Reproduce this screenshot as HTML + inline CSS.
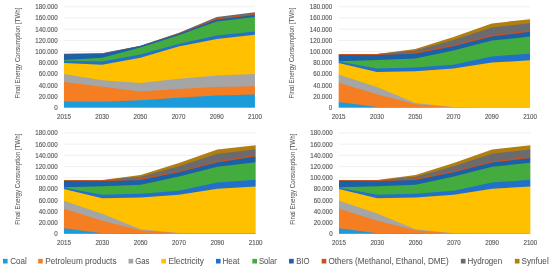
<!DOCTYPE html>
<html><head><meta charset="utf-8"><style>
html,body{margin:0;padding:0;background:#fff;}
svg{display:block;will-change:transform;}
text{font-family:"Liberation Sans",sans-serif;fill:#595959;stroke:#595959;stroke-width:0.13px;}
.ax{font-size:6.6px;}
.yt{font-size:6.5px;stroke-width:0.06px;}
.lg{font-size:8.6px;stroke-width:0.05px;}
</style></head><body>
<svg width="550" height="268" viewBox="0 0 550 268">
<rect width="550" height="268" fill="#fff"/>
<g transform="translate(0,0)">
<line x1="63.94" x2="254.94" y1="96.49" y2="96.49" stroke="#e9e9e9" stroke-width="0.7"/>
<line x1="63.94" x2="254.94" y1="85.28" y2="85.28" stroke="#e9e9e9" stroke-width="0.7"/>
<line x1="63.94" x2="254.94" y1="74.07" y2="74.07" stroke="#e9e9e9" stroke-width="0.7"/>
<line x1="63.94" x2="254.94" y1="62.86" y2="62.86" stroke="#e9e9e9" stroke-width="0.7"/>
<line x1="63.94" x2="254.94" y1="51.64" y2="51.64" stroke="#e9e9e9" stroke-width="0.7"/>
<line x1="63.94" x2="254.94" y1="40.43" y2="40.43" stroke="#e9e9e9" stroke-width="0.7"/>
<line x1="63.94" x2="254.94" y1="29.22" y2="29.22" stroke="#e9e9e9" stroke-width="0.7"/>
<line x1="63.94" x2="254.94" y1="18.01" y2="18.01" stroke="#e9e9e9" stroke-width="0.7"/>
<line x1="63.94" x2="254.94" y1="6.8" y2="6.8" stroke="#e9e9e9" stroke-width="0.7"/>
<mask id="m1" maskUnits="userSpaceOnUse" x="0" y="0" width="275" height="125"><rect x="63.94" y="0" width="191" height="107.7" fill="#fff"/></mask>
<g mask="url(#m1)">
<path d="M62.44,53.7 L63.94,53.7 L102.14,53.3 L140.34,45.8 L178.54,33 L216.74,16.9 L254.94,12.3 L256.44,12.3 L256.44,109.2 L62.44,109.2Z" fill="#6a6a6f"/>
<path d="M62.44,54 L63.94,54 L102.14,53.6 L140.34,45.9 L178.54,33.3 L216.74,18.2 L254.94,14 L256.44,14 L256.44,109.2 L62.44,109.2Z" fill="#c8521a"/>
<path d="M62.44,54.3 L63.94,54.3 L102.14,53.7 L140.34,46.1 L178.54,33.7 L216.74,19.4 L254.94,14.9 L256.44,14.9 L256.44,109.2 L62.44,109.2Z" fill="#1b60a8"/>
<path d="M62.44,60 L63.94,60 L102.14,57.7 L140.34,47.6 L178.54,35.2 L216.74,21.5 L254.94,17 L256.44,17 L256.44,109.2 L62.44,109.2Z" fill="#44ab3e"/>
<path d="M62.44,60.7 L63.94,60.7 L102.14,61.6 L140.34,54.6 L178.54,44.1 L216.74,35.6 L254.94,31.4 L256.44,31.4 L256.44,109.2 L62.44,109.2Z" fill="#2070cc"/>
<path d="M62.44,62.9 L63.94,62.9 L102.14,64.8 L140.34,57.8 L178.54,46.5 L216.74,38.9 L254.94,34.7 L256.44,34.7 L256.44,109.2 L62.44,109.2Z" fill="#ffc000"/>
<path d="M62.44,74.1 L63.94,74.1 L102.14,80.3 L140.34,83 L178.54,78.7 L216.74,75.5 L254.94,74 L256.44,74 L256.44,109.2 L62.44,109.2Z" fill="#a5a5a5"/>
<path d="M62.44,82 L63.94,82 L102.14,86.8 L140.34,91.4 L178.54,89.1 L216.74,87.1 L254.94,86.2 L256.44,86.2 L256.44,109.2 L62.44,109.2Z" fill="#f57d22"/>
<path d="M62.44,101.6 L63.94,101.6 L102.14,101.8 L140.34,100.2 L178.54,97.7 L216.74,95.6 L254.94,94.6 L256.44,94.6 L256.44,109.2 L62.44,109.2Z" fill="#1c9bda"/>
</g>
<text transform="translate(57.7,110.05) scale(0.94,1)" text-anchor="end" class="ax">0</text>
<text transform="translate(57.7,98.84) scale(0.94,1)" text-anchor="end" class="ax">20.000</text>
<text transform="translate(57.7,87.63) scale(0.94,1)" text-anchor="end" class="ax">40.000</text>
<text transform="translate(57.7,76.42) scale(0.94,1)" text-anchor="end" class="ax">60.000</text>
<text transform="translate(57.7,65.21) scale(0.94,1)" text-anchor="end" class="ax">80.000</text>
<text transform="translate(57.7,53.99) scale(0.94,1)" text-anchor="end" class="ax">100.000</text>
<text transform="translate(57.7,42.78) scale(0.94,1)" text-anchor="end" class="ax">120.000</text>
<text transform="translate(57.7,31.57) scale(0.94,1)" text-anchor="end" class="ax">140.000</text>
<text transform="translate(57.7,20.36) scale(0.94,1)" text-anchor="end" class="ax">160.000</text>
<text transform="translate(57.7,9.15) scale(0.94,1)" text-anchor="end" class="ax">180.000</text>
<text transform="translate(63.94,119.1) scale(0.94,1)" text-anchor="middle" class="ax">2015</text>
<text transform="translate(102.14,119.1) scale(0.94,1)" text-anchor="middle" class="ax">2030</text>
<text transform="translate(140.34,119.1) scale(0.94,1)" text-anchor="middle" class="ax">2050</text>
<text transform="translate(178.54,119.1) scale(0.94,1)" text-anchor="middle" class="ax">2070</text>
<text transform="translate(216.74,119.1) scale(0.94,1)" text-anchor="middle" class="ax">2090</text>
<text transform="translate(254.94,119.1) scale(0.94,1)" text-anchor="middle" class="ax">2100</text>
<text transform="translate(19.9,53.0) rotate(-90)" text-anchor="middle" class="yt" textLength="91" lengthAdjust="spacingAndGlyphs">Final Energy Consumption [TWh]</text>
</g>
<g transform="translate(274.5,0)">
<line x1="64.16" x2="255.56" y1="96.49" y2="96.49" stroke="#e9e9e9" stroke-width="0.7"/>
<line x1="64.16" x2="255.56" y1="85.28" y2="85.28" stroke="#e9e9e9" stroke-width="0.7"/>
<line x1="64.16" x2="255.56" y1="74.07" y2="74.07" stroke="#e9e9e9" stroke-width="0.7"/>
<line x1="64.16" x2="255.56" y1="62.86" y2="62.86" stroke="#e9e9e9" stroke-width="0.7"/>
<line x1="64.16" x2="255.56" y1="51.64" y2="51.64" stroke="#e9e9e9" stroke-width="0.7"/>
<line x1="64.16" x2="255.56" y1="40.43" y2="40.43" stroke="#e9e9e9" stroke-width="0.7"/>
<line x1="64.16" x2="255.56" y1="29.22" y2="29.22" stroke="#e9e9e9" stroke-width="0.7"/>
<line x1="64.16" x2="255.56" y1="18.01" y2="18.01" stroke="#e9e9e9" stroke-width="0.7"/>
<line x1="64.16" x2="255.56" y1="6.8" y2="6.8" stroke="#e9e9e9" stroke-width="0.7"/>
<mask id="m2" maskUnits="userSpaceOnUse" x="0" y="0" width="275" height="125"><rect x="64.16" y="0" width="191.4" height="107.7" fill="#fff"/></mask>
<g mask="url(#m2)">
<path d="M62.66,54.2 L64.16,54.2 L102.44,53.9 L140.72,48.9 L179,36.9 L217.28,23.4 L255.56,19.2 L257.06,19.2 L257.06,109.2 L62.66,109.2Z" fill="#b07f10"/>
<path d="M62.66,54.2 L64.16,54.2 L102.44,54 L140.72,50.5 L179,40 L217.28,27.5 L255.56,23.3 L257.06,23.3 L257.06,109.2 L62.66,109.2Z" fill="#6a6a6f"/>
<path d="M62.66,54.2 L64.16,54.2 L102.44,54 L140.72,52.3 L179,45 L217.28,35 L255.56,30.3 L257.06,30.3 L257.06,109.2 L62.66,109.2Z" fill="#c8521a"/>
<path d="M62.66,54.9 L64.16,54.9 L102.44,55.1 L140.72,53.8 L179,46.2 L217.28,36.4 L255.56,31.8 L257.06,31.8 L257.06,109.2 L62.66,109.2Z" fill="#1b60a8"/>
<path d="M62.66,61.2 L64.16,61.2 L102.44,60.1 L140.72,58.5 L179,50.4 L217.28,40.6 L255.56,36.6 L257.06,36.6 L257.06,109.2 L62.66,109.2Z" fill="#44ab3e"/>
<path d="M62.66,61.5 L64.16,61.5 L102.44,68.6 L140.72,67.6 L179,64.7 L217.28,56.4 L255.56,53.7 L257.06,53.7 L257.06,109.2 L62.66,109.2Z" fill="#2070cc"/>
<path d="M62.66,62.9 L64.16,62.9 L102.44,72.1 L140.72,71.3 L179,68.5 L217.28,62.6 L255.56,60.3 L257.06,60.3 L257.06,109.2 L62.66,109.2Z" fill="#ffc000"/>
<path d="M62.66,74.6 L64.16,74.6 L102.44,86.9 L140.72,103.1 L179,107 L217.28,107.7 L255.56,107.7 L257.06,107.7 L257.06,109.2 L62.66,109.2Z" fill="#a5a5a5"/>
<path d="M62.66,82.7 L64.16,82.7 L102.44,94.2 L140.72,104.2 L179,107.3 L217.28,107.7 L255.56,107.7 L257.06,107.7 L257.06,109.2 L62.66,109.2Z" fill="#f57d22"/>
<path d="M62.66,102.1 L64.16,102.1 L102.44,107 L140.72,106.9 L179,107.7 L217.28,107.7 L255.56,107.7 L257.06,107.7 L257.06,109.2 L62.66,109.2Z" fill="#1c9bda"/>
</g>
<text transform="translate(57.7,110.05) scale(0.94,1)" text-anchor="end" class="ax">0</text>
<text transform="translate(57.7,98.84) scale(0.94,1)" text-anchor="end" class="ax">20.000</text>
<text transform="translate(57.7,87.63) scale(0.94,1)" text-anchor="end" class="ax">40.000</text>
<text transform="translate(57.7,76.42) scale(0.94,1)" text-anchor="end" class="ax">60.000</text>
<text transform="translate(57.7,65.21) scale(0.94,1)" text-anchor="end" class="ax">80.000</text>
<text transform="translate(57.7,53.99) scale(0.94,1)" text-anchor="end" class="ax">100.000</text>
<text transform="translate(57.7,42.78) scale(0.94,1)" text-anchor="end" class="ax">120.000</text>
<text transform="translate(57.7,31.57) scale(0.94,1)" text-anchor="end" class="ax">140.000</text>
<text transform="translate(57.7,20.36) scale(0.94,1)" text-anchor="end" class="ax">160.000</text>
<text transform="translate(57.7,9.15) scale(0.94,1)" text-anchor="end" class="ax">180.000</text>
<text transform="translate(64.16,119.1) scale(0.94,1)" text-anchor="middle" class="ax">2015</text>
<text transform="translate(102.44,119.1) scale(0.94,1)" text-anchor="middle" class="ax">2030</text>
<text transform="translate(140.72,119.1) scale(0.94,1)" text-anchor="middle" class="ax">2050</text>
<text transform="translate(179,119.1) scale(0.94,1)" text-anchor="middle" class="ax">2070</text>
<text transform="translate(217.28,119.1) scale(0.94,1)" text-anchor="middle" class="ax">2090</text>
<text transform="translate(255.56,119.1) scale(0.94,1)" text-anchor="middle" class="ax">2100</text>
<text transform="translate(19.9,53.0) rotate(-90)" text-anchor="middle" class="yt" textLength="91" lengthAdjust="spacingAndGlyphs">Final Energy Consumption [TWh]</text>
</g>
<g transform="translate(0,126.15)">
<line x1="63.94" x2="255.66" y1="96.49" y2="96.49" stroke="#e9e9e9" stroke-width="0.7"/>
<line x1="63.94" x2="255.66" y1="85.28" y2="85.28" stroke="#e9e9e9" stroke-width="0.7"/>
<line x1="63.94" x2="255.66" y1="74.07" y2="74.07" stroke="#e9e9e9" stroke-width="0.7"/>
<line x1="63.94" x2="255.66" y1="62.86" y2="62.86" stroke="#e9e9e9" stroke-width="0.7"/>
<line x1="63.94" x2="255.66" y1="51.64" y2="51.64" stroke="#e9e9e9" stroke-width="0.7"/>
<line x1="63.94" x2="255.66" y1="40.43" y2="40.43" stroke="#e9e9e9" stroke-width="0.7"/>
<line x1="63.94" x2="255.66" y1="29.22" y2="29.22" stroke="#e9e9e9" stroke-width="0.7"/>
<line x1="63.94" x2="255.66" y1="18.01" y2="18.01" stroke="#e9e9e9" stroke-width="0.7"/>
<line x1="63.94" x2="255.66" y1="6.8" y2="6.8" stroke="#e9e9e9" stroke-width="0.7"/>
<mask id="m3" maskUnits="userSpaceOnUse" x="0" y="0" width="275" height="125"><rect x="63.94" y="0" width="191.72" height="107.7" fill="#fff"/></mask>
<g mask="url(#m3)">
<path d="M62.44,54.2 L63.94,54.2 L102.28,53.9 L140.63,48.9 L178.97,36.9 L217.32,23.4 L255.66,19.2 L257.16,19.2 L257.16,109.2 L62.44,109.2Z" fill="#b07f10"/>
<path d="M62.44,54.2 L63.94,54.2 L102.28,54 L140.63,50.5 L178.97,40 L217.32,27.5 L255.66,23.3 L257.16,23.3 L257.16,109.2 L62.44,109.2Z" fill="#6a6a6f"/>
<path d="M62.44,54.2 L63.94,54.2 L102.28,54 L140.63,52.3 L178.97,45 L217.32,35 L255.66,28.5 L257.16,28.5 L257.16,109.2 L62.44,109.2Z" fill="#c8521a"/>
<path d="M62.44,54.9 L63.94,54.9 L102.28,55.1 L140.63,53.8 L178.97,46.2 L217.32,36.4 L255.66,30.4 L257.16,30.4 L257.16,109.2 L62.44,109.2Z" fill="#1b60a8"/>
<path d="M62.44,61.2 L63.94,61.2 L102.28,60.1 L140.63,58.5 L178.97,50.4 L217.32,40.6 L255.66,36.2 L257.16,36.2 L257.16,109.2 L62.44,109.2Z" fill="#44ab3e"/>
<path d="M62.44,61.5 L63.94,61.5 L102.28,68.6 L140.63,67.6 L178.97,64.7 L217.32,56.4 L255.66,53.7 L257.16,53.7 L257.16,109.2 L62.44,109.2Z" fill="#2070cc"/>
<path d="M62.44,62.9 L63.94,62.9 L102.28,72.1 L140.63,71.3 L178.97,68.5 L217.32,62.6 L255.66,60.3 L257.16,60.3 L257.16,109.2 L62.44,109.2Z" fill="#ffc000"/>
<path d="M62.44,74.6 L63.94,74.6 L102.28,87.5 L140.63,103.1 L178.97,106.8 L217.32,107.1 L255.66,107.1 L257.16,107.1 L257.16,109.2 L62.44,109.2Z" fill="#a5a5a5"/>
<path d="M62.44,82.7 L63.94,82.7 L102.28,94.5 L140.63,104.2 L178.97,107 L217.32,107.1 L255.66,107.1 L257.16,107.1 L257.16,109.2 L62.44,109.2Z" fill="#f57d22"/>
<path d="M62.44,102.1 L63.94,102.1 L102.28,107 L140.63,106.9 L178.97,107.7 L217.32,107.7 L255.66,107.7 L257.16,107.7 L257.16,109.2 L62.44,109.2Z" fill="#1c9bda"/>
</g>
<text transform="translate(57.7,110.05) scale(0.94,1)" text-anchor="end" class="ax">0</text>
<text transform="translate(57.7,98.84) scale(0.94,1)" text-anchor="end" class="ax">20.000</text>
<text transform="translate(57.7,87.63) scale(0.94,1)" text-anchor="end" class="ax">40.000</text>
<text transform="translate(57.7,76.42) scale(0.94,1)" text-anchor="end" class="ax">60.000</text>
<text transform="translate(57.7,65.21) scale(0.94,1)" text-anchor="end" class="ax">80.000</text>
<text transform="translate(57.7,53.99) scale(0.94,1)" text-anchor="end" class="ax">100.000</text>
<text transform="translate(57.7,42.78) scale(0.94,1)" text-anchor="end" class="ax">120.000</text>
<text transform="translate(57.7,31.57) scale(0.94,1)" text-anchor="end" class="ax">140.000</text>
<text transform="translate(57.7,20.36) scale(0.94,1)" text-anchor="end" class="ax">160.000</text>
<text transform="translate(57.7,9.15) scale(0.94,1)" text-anchor="end" class="ax">180.000</text>
<text transform="translate(63.94,119.1) scale(0.94,1)" text-anchor="middle" class="ax">2015</text>
<text transform="translate(102.28,119.1) scale(0.94,1)" text-anchor="middle" class="ax">2030</text>
<text transform="translate(140.63,119.1) scale(0.94,1)" text-anchor="middle" class="ax">2050</text>
<text transform="translate(178.97,119.1) scale(0.94,1)" text-anchor="middle" class="ax">2070</text>
<text transform="translate(217.32,119.1) scale(0.94,1)" text-anchor="middle" class="ax">2090</text>
<text transform="translate(255.66,119.1) scale(0.94,1)" text-anchor="middle" class="ax">2100</text>
<text transform="translate(19.9,53.0) rotate(-90)" text-anchor="middle" class="yt" textLength="91" lengthAdjust="spacingAndGlyphs">Final Energy Consumption [TWh]</text>
</g>
<g transform="translate(275,126.15)">
<line x1="64" x2="255.36" y1="96.49" y2="96.49" stroke="#e9e9e9" stroke-width="0.7"/>
<line x1="64" x2="255.36" y1="85.28" y2="85.28" stroke="#e9e9e9" stroke-width="0.7"/>
<line x1="64" x2="255.36" y1="74.07" y2="74.07" stroke="#e9e9e9" stroke-width="0.7"/>
<line x1="64" x2="255.36" y1="62.86" y2="62.86" stroke="#e9e9e9" stroke-width="0.7"/>
<line x1="64" x2="255.36" y1="51.64" y2="51.64" stroke="#e9e9e9" stroke-width="0.7"/>
<line x1="64" x2="255.36" y1="40.43" y2="40.43" stroke="#e9e9e9" stroke-width="0.7"/>
<line x1="64" x2="255.36" y1="29.22" y2="29.22" stroke="#e9e9e9" stroke-width="0.7"/>
<line x1="64" x2="255.36" y1="18.01" y2="18.01" stroke="#e9e9e9" stroke-width="0.7"/>
<line x1="64" x2="255.36" y1="6.8" y2="6.8" stroke="#e9e9e9" stroke-width="0.7"/>
<mask id="m4" maskUnits="userSpaceOnUse" x="0" y="0" width="275" height="125"><rect x="64" y="0" width="191.36" height="107.7" fill="#fff"/></mask>
<g mask="url(#m4)">
<path d="M62.5,54.2 L64,54.2 L102.27,53.9 L140.54,48.9 L178.82,36.9 L217.09,23.4 L255.36,19.2 L256.86,19.2 L256.86,109.2 L62.5,109.2Z" fill="#b07f10"/>
<path d="M62.5,54.2 L64,54.2 L102.27,54 L140.54,50.5 L178.82,40 L217.09,27.5 L255.36,23.3 L256.86,23.3 L256.86,109.2 L62.5,109.2Z" fill="#6a6a6f"/>
<path d="M62.5,54.2 L64,54.2 L102.27,54 L140.54,52.3 L178.82,45 L217.09,35 L255.36,30.3 L256.86,30.3 L256.86,109.2 L62.5,109.2Z" fill="#c8521a"/>
<path d="M62.5,54.9 L64,54.9 L102.27,55.1 L140.54,53.8 L178.82,46.2 L217.09,36.4 L255.36,31.8 L256.86,31.8 L256.86,109.2 L62.5,109.2Z" fill="#1b60a8"/>
<path d="M62.5,61.2 L64,61.2 L102.27,60.1 L140.54,58.5 L178.82,50.4 L217.09,40.6 L255.36,36.6 L256.86,36.6 L256.86,109.2 L62.5,109.2Z" fill="#44ab3e"/>
<path d="M62.5,61.5 L64,61.5 L102.27,68.6 L140.54,67.6 L178.82,64.7 L217.09,56.4 L255.36,53.7 L256.86,53.7 L256.86,109.2 L62.5,109.2Z" fill="#2070cc"/>
<path d="M62.5,62.9 L64,62.9 L102.27,72.1 L140.54,71.3 L178.82,68.5 L217.09,62.6 L255.36,60.3 L256.86,60.3 L256.86,109.2 L62.5,109.2Z" fill="#ffc000"/>
<path d="M62.5,74.6 L64,74.6 L102.27,87.4 L140.54,103.1 L178.82,107 L217.09,107.7 L255.36,107.7 L256.86,107.7 L256.86,109.2 L62.5,109.2Z" fill="#a5a5a5"/>
<path d="M62.5,82.7 L64,82.7 L102.27,94.5 L140.54,104.2 L178.82,107.3 L217.09,107.7 L255.36,107.7 L256.86,107.7 L256.86,109.2 L62.5,109.2Z" fill="#f57d22"/>
<path d="M62.5,102.1 L64,102.1 L102.27,107 L140.54,106.9 L178.82,107.7 L217.09,107.7 L255.36,107.7 L256.86,107.7 L256.86,109.2 L62.5,109.2Z" fill="#1c9bda"/>
</g>
<text transform="translate(57.7,110.05) scale(0.94,1)" text-anchor="end" class="ax">0</text>
<text transform="translate(57.7,98.84) scale(0.94,1)" text-anchor="end" class="ax">20.000</text>
<text transform="translate(57.7,87.63) scale(0.94,1)" text-anchor="end" class="ax">40.000</text>
<text transform="translate(57.7,76.42) scale(0.94,1)" text-anchor="end" class="ax">60.000</text>
<text transform="translate(57.7,65.21) scale(0.94,1)" text-anchor="end" class="ax">80.000</text>
<text transform="translate(57.7,53.99) scale(0.94,1)" text-anchor="end" class="ax">100.000</text>
<text transform="translate(57.7,42.78) scale(0.94,1)" text-anchor="end" class="ax">120.000</text>
<text transform="translate(57.7,31.57) scale(0.94,1)" text-anchor="end" class="ax">140.000</text>
<text transform="translate(57.7,20.36) scale(0.94,1)" text-anchor="end" class="ax">160.000</text>
<text transform="translate(57.7,9.15) scale(0.94,1)" text-anchor="end" class="ax">180.000</text>
<text transform="translate(64,119.1) scale(0.94,1)" text-anchor="middle" class="ax">2015</text>
<text transform="translate(102.27,119.1) scale(0.94,1)" text-anchor="middle" class="ax">2030</text>
<text transform="translate(140.54,119.1) scale(0.94,1)" text-anchor="middle" class="ax">2050</text>
<text transform="translate(178.82,119.1) scale(0.94,1)" text-anchor="middle" class="ax">2070</text>
<text transform="translate(217.09,119.1) scale(0.94,1)" text-anchor="middle" class="ax">2090</text>
<text transform="translate(255.36,119.1) scale(0.94,1)" text-anchor="middle" class="ax">2100</text>
<text transform="translate(19.9,53.0) rotate(-90)" text-anchor="middle" class="yt" textLength="91" lengthAdjust="spacingAndGlyphs">Final Energy Consumption [TWh]</text>
</g>
<rect x="2.95" y="258.85" width="4.65" height="4.65" fill="#1c9bda"/>
<text x="10.2" y="263.5" class="lg" textLength="16.5" lengthAdjust="spacingAndGlyphs">Coal</text>
<rect x="38.15" y="258.85" width="4.65" height="4.65" fill="#f57d22"/>
<text x="45.3" y="263.5" class="lg" textLength="71.2" lengthAdjust="spacingAndGlyphs">Petroleum products</text>
<rect x="128.55" y="258.85" width="4.65" height="4.65" fill="#a5a5a5"/>
<text x="135.3" y="263.5" class="lg" textLength="14.2" lengthAdjust="spacingAndGlyphs">Gas</text>
<rect x="161.35" y="258.85" width="4.65" height="4.65" fill="#ffc000"/>
<text x="168.4" y="263.5" class="lg" textLength="35.6" lengthAdjust="spacingAndGlyphs">Electricity</text>
<rect x="215.95" y="258.85" width="4.65" height="4.65" fill="#2070cc"/>
<text x="222.5" y="263.5" class="lg" textLength="17.1" lengthAdjust="spacingAndGlyphs">Heat</text>
<rect x="252.35" y="258.85" width="4.65" height="4.65" fill="#44ab3e"/>
<text x="258.9" y="263.5" class="lg" textLength="18" lengthAdjust="spacingAndGlyphs">Solar</text>
<rect x="289.05" y="258.85" width="4.65" height="4.65" fill="#1b60a8"/>
<text x="296.2" y="263.5" class="lg" textLength="13.3" lengthAdjust="spacingAndGlyphs">BIO</text>
<rect x="321.65" y="258.85" width="4.65" height="4.65" fill="#c8521a"/>
<text x="328.4" y="263.5" class="lg" textLength="120.3" lengthAdjust="spacingAndGlyphs">Others (Methanol, Ethanol, DME)</text>
<rect x="460.85" y="258.85" width="4.65" height="4.65" fill="#6a6a6f"/>
<text x="467.4" y="263.5" class="lg" textLength="34.9" lengthAdjust="spacingAndGlyphs">Hydrogen</text>
<rect x="514.85" y="258.85" width="4.65" height="4.65" fill="#b07f10"/>
<text x="521.6" y="263.5" class="lg" textLength="27.1" lengthAdjust="spacingAndGlyphs">Synfuel</text>
</svg>
</body></html>
